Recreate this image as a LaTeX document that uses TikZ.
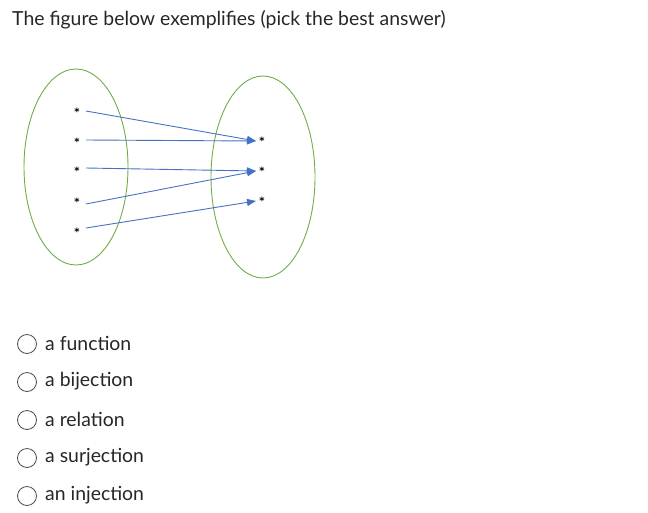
\documentclass[tikz,border=0pt]{standalone}
\usepackage{fontspec}
\setmainfont{Lato}
\newfontfamily\starfont{DejaVu Sans}
\usetikzlibrary{arrows.meta}
\definecolor{ellg}{HTML}{70AD47}
\definecolor{arrb}{HTML}{4472C4}
\begin{document}
\begin{tikzpicture}[x=1pt,y=-1pt,
  setell/.style={draw=ellg, line width=0.9pt},
  star/.style={inner sep=0pt, font=\starfont\bfseries\fontsize{10}{10}\selectfont},
  mapar/.style={draw=arrb, line width=0.9pt, -{Triangle[length=9pt,width=7pt]}},
  opt/.style={draw=black!70, line width=0.8pt},
  lbl/.style={anchor=west, inner sep=0pt, font=\fontsize{19.4}{19.4}\selectfont, text=black!85}]
\useasboundingbox (0,0) rectangle (648,512);
\node[lbl] (title) at (12,20) {The figure below exemplifies (pick the best answer)};
\draw[setell] (76,167) ellipse [x radius=52, y radius=98];
\draw[setell] (263,177) ellipse [x radius=52, y radius=101];
\foreach \i/\y in {1/110,2/140,3/169,4/200,5/230} \node[star] (a\i) at (77,\y+2) {*};
\foreach \i/\y in {1/139,2/169,3/199} \node[star] (b\i) at (262,\y+2) {*};
\coordinate (t1) at (256,141);
\coordinate (t2) at (256,171);
\coordinate (t3) at (256,201);
\draw[mapar] (86,111) -- (t1);
\draw[mapar] (86,140) -- (t1);
\draw[mapar] (86,168) -- (t2);
\draw[mapar] (86,204) -- (t2);
\draw[mapar] (86,228) -- (t3);
\foreach \i/\y/\t in {1/344/a function,2/382/a bijection,3/420/a relation,4/458/a surjection,5/496/an injection}{
  \draw[opt] (27,\y) circle (9.5);
  \node[lbl] (o\i) at (45,\y-1) {\t};
}
\end{tikzpicture}
\end{document}
